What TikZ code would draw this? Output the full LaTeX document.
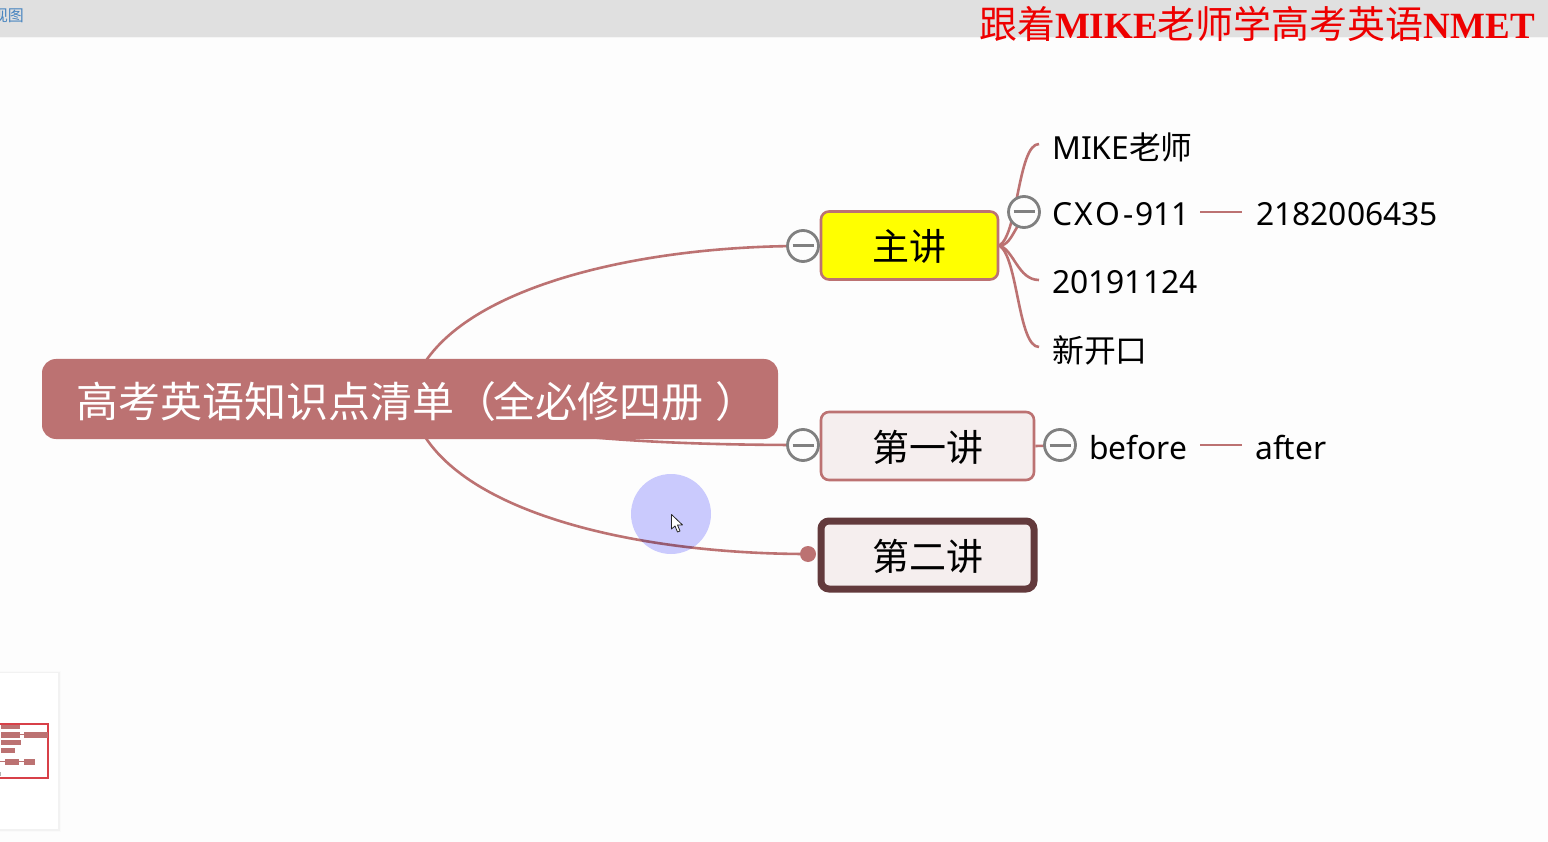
\documentclass[tikz,border=0pt]{standalone}
\usepackage{fontspec}
\setmainfont{Noto Sans}
\newfontfamily\cjk{Noto Sans CJK SC}
\newfontfamily\banlat{Liberation Serif}[BoldFont={Liberation Serif Bold}]
\usetikzlibrary{backgrounds,shapes.geometric}
\definecolor{canvas}{HTML}{FDFDFD}
\definecolor{barbg}{HTML}{E0E0E0}
\definecolor{rose}{HTML}{BC7272}
\definecolor{darkb}{HTML}{633A3C}
\definecolor{pale}{HTML}{F5EEEE}
\definecolor{ringc}{HTML}{808080}
\definecolor{pureyellow}{HTML}{FFFF00}
\definecolor{banred}{HTML}{EE0000}
\definecolor{linkblue}{HTML}{4A86C0}
\definecolor{maprect}{HTML}{D84048}
\tikzset{
  x=1pt,y=-1pt,
  conn/.style={draw=rose,line width=2.6pt},
  boxn/.style={rectangle,rounded corners=8pt,draw=rose,line width=2.6pt,fill=pale,inner sep=0pt,
     minimum height=68pt,text height=33pt,text depth=2pt,font=\fontsize{37}{37}\selectfont\cjk},
  leafn/.style={anchor=west,inner ysep=0pt,inner xsep=14pt,text height=36pt,text depth=8pt,
     font=\fontsize{31.8}{32}\selectfont},
  lowleaf/.style={text height=37.5pt,text depth=7pt},
  ringn/.style={circle,draw=ringc,line width=2.8pt,fill=canvas,minimum size=31pt,inner sep=0pt,
     path picture={\draw[ringc,line width=3pt] ([xshift=5pt]path picture bounding box.west) -- ([xshift=-5pt]path picture bounding box.east);}},
}
\begin{document}
\begin{tikzpicture}
\useasboundingbox (0,0) rectangle (1548,842);
\begin{pgfonlayer}{background}
  \fill[canvas] (0,0) rectangle (1548,842);
  \fill[barbg] (0,0) rectangle (1548,37);
  \fill[black!4] (0,37) rectangle (1548,38.5);
\end{pgfonlayer}

% top bar texts
\node[anchor=east,inner sep=0pt,text=linkblue,font=\fontsize{16}{16}\selectfont\cjk] (view) at (24,15) {视图};
\node[anchor=east,inner sep=0pt,text=banred,font=\fontsize{38}{38}\selectfont\cjk] (banner) at (1535,24)
  {跟着{\fontsize{37}{37}\selectfont\banlat\bfseries MIKE}老师学高考英语{\fontsize{37}{37}\selectfont\banlat\bfseries NMET}};

% main nodes
\node[rectangle,rounded corners=14pt,fill=rose,inner sep=0pt,minimum width=736pt,minimum height=80pt,
   text=white,text height=38pt,text depth=2pt,font=\fontsize{42}{42}\selectfont\cjk] (title) at (410,399)
   {\hspace*{14pt}高考英语知识点清单（\hspace{-3pt}全必修四册\hspace{13pt}）};
\node[boxn,fill=pureyellow,minimum width=177pt] (zj) at (909.5,245.5) {主讲};
\node[boxn,minimum width=213pt] (d1) at (927.5,446) {第一讲};
\node[boxn,minimum width=213pt,draw=darkb,line width=7pt] (d2) at (927.5,555) {第二讲};

% leaves
\node[leafn,lowleaf,inner xsep=13pt] (mike) at (1039,144) {MIKE{\cjk 老师}};
\node[leafn,inner xsep=13pt,text width=135pt,align=left] (cxo) at (1039,212) {\mbox{C\kern2.5pt X\kern2.5pt O\kern2.5pt-\kern1.5pt 911}};
\node[leafn] (num) at (1242,212) {2182006435};
\node[leafn,inner xsep=13pt] (date) at (1039,280) {20191124};
\node[leafn,lowleaf,inner xsep=13pt] (xin) at (1039,347) {\cjk 新开口};
\node[leafn,inner xsep=13pt,text width=98pt,align=left] (bef) at (1076,445) {before};
\node[leafn,inner xsep=13pt] (aft) at (1242,445) {after};

% collapse rings and dot
\node[ringn] (r1) at (803,246) {};
\node[ringn] (r2) at (1024,212) {};
\node[ringn] (r3) at (803,445) {};
\node[ringn] (r4) at (1060,445) {};
\node[circle,fill=rose,minimum size=16pt,inner sep=0pt] (dot) at (808,554) {};

% connectors
\begin{pgfonlayer}{background}
  \draw[conn] (title.center) .. controls (428,296) and (620,246) .. (r1.center);
  \draw[conn] (title.center) .. controls (480,430) and (600,445) .. (r3.center);
  \draw[conn] (title.center) .. controls (428,505) and (620,554) .. (dot.center);
  \draw[conn] (zj.east) .. controls (1018,235) and (1018,144) .. (mike.west);
  \draw[conn] (zj.east) .. controls (1015,246) and (1015,212) .. (cxo.west);
  \draw[conn] (zj.east) .. controls (1014,250) and (1018,280) .. (date.west);
  \draw[conn] (zj.east) .. controls (1018,257) and (1018,347) .. (xin.west);
  \draw[conn] (cxo.east) -- (num.west);
  \draw[conn] (d1.east) -- (bef.west);
  \draw[conn] (bef.east) -- (aft.west);
\end{pgfonlayer}

% pointer highlight and cursor
\fill[blend mode=multiply,fill=blue!20!white] (671,514) circle (40);
\draw[black!85,fill=white,line width=0.8pt,line join=round]
  (671.5,514.5) -- (671.5,529) -- (675,526) -- (677.5,532) -- (680,531) -- (677.5,525) -- (682.5,525) -- cycle;

% minimap
\fill[black!2] (0,671) rectangle (61,832);
\fill[black!5] (0,672) rectangle (59.5,830.5);
\fill[white] (0,673) rectangle (58,829);
\draw[maprect,line width=2pt] (-2,723.5) rectangle (48,777.5);
\foreach \xa/\ya/\xb/\yb in {0.7/724.5/20/729,0.7/732/19.5/737.5,24/732/48/737.5,0.7/739.5/21/745,0.7/747.5/15/752.5,5/759/19/764.5,24/759/35/764.5}
  \fill[rose] (\xa,\ya) rectangle (\xb,\yb);
\draw[rose,line width=0.8pt] (19.5,734.5) -- (24,734.5) (0,761.5) -- (5,761.5) (19,761.5) -- (24,761.5);
\fill[black!30] (0,772) rectangle (1,776);
\end{tikzpicture}
\end{document}
